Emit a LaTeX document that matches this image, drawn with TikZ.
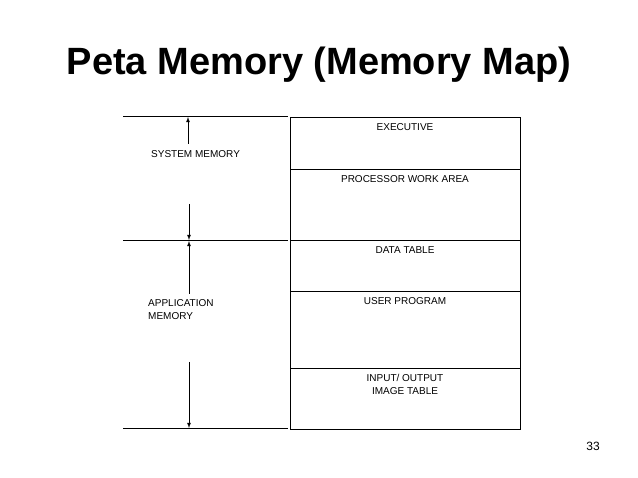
\documentclass[tikz,border=0pt]{standalone}
\usepackage{fontspec}
\setmainfont{Liberation Sans}
\begin{document}
\begin{tikzpicture}[x=1pt,y=-1pt,
  lab/.style={font=\fontsize{10}{13}\selectfont,inner sep=0pt},
  box/.style={draw,line width=0.8pt},
  arr/.style={-latex,line width=0.8pt},
  ln/.style={line width=0.8pt}]
\useasboundingbox (0,0) rectangle (638,478);
\node[font=\bfseries\fontsize{38}{40}\selectfont] (title) at (319,65) {Peta Memory (Memory Map)};
\draw[box] (290,117) rectangle (520,169);
\draw[box] (290,169) rectangle (520,240);
\draw[box] (290,240) rectangle (520,291);
\draw[box] (290,291) rectangle (520,368);
\draw[box] (290,368) rectangle (520,429);
\node[lab] (exe) at (405,127) {EXECUTIVE};
\node[lab] (pwa) at (405,179) {PROCESSOR WORK AREA};
\node[lab] (dt) at (405,250) {DATA TABLE};
\node[lab] (up) at (405,301) {USER PROGRAM};
\node[lab,align=center] (io) at (405,384) {INPUT/ OUTPUT\\IMAGE TABLE};
\node[lab,anchor=west] (sm) at (151,154) {SYSTEM MEMORY};
\node[lab,anchor=west,align=left] (am) at (148,310) {APPLICATION\\MEMORY};
\coordinate (l1a) at (123,116); \coordinate (l1b) at (288,116);
\coordinate (l2a) at (123,240); \coordinate (l2b) at (288,240);
\coordinate (l3a) at (123,428); \coordinate (l3b) at (288,428);
\draw[ln] (l1a) -- (l1b); \draw[ln] (l2a) -- (l2b); \draw[ln] (l3a) -- (l3b);
\coordinate (a1s) at (188,144); \coordinate (a1e) at (188,117);
\coordinate (a2s) at (189,204); \coordinate (a2e) at (189,240);
\coordinate (a3s) at (189,294); \coordinate (a3e) at (189,241);
\coordinate (a4s) at (189,362); \coordinate (a4e) at (189,428);
\draw[arr] (a1s) -- (a1e); \draw[arr] (a2s) -- (a2e);
\draw[arr] (a3s) -- (a3e); \draw[arr] (a4s) -- (a4e);
\node[font=\fontsize{12}{14}\selectfont] (pg) at (593,446) {33};
\end{tikzpicture}
\end{document}
